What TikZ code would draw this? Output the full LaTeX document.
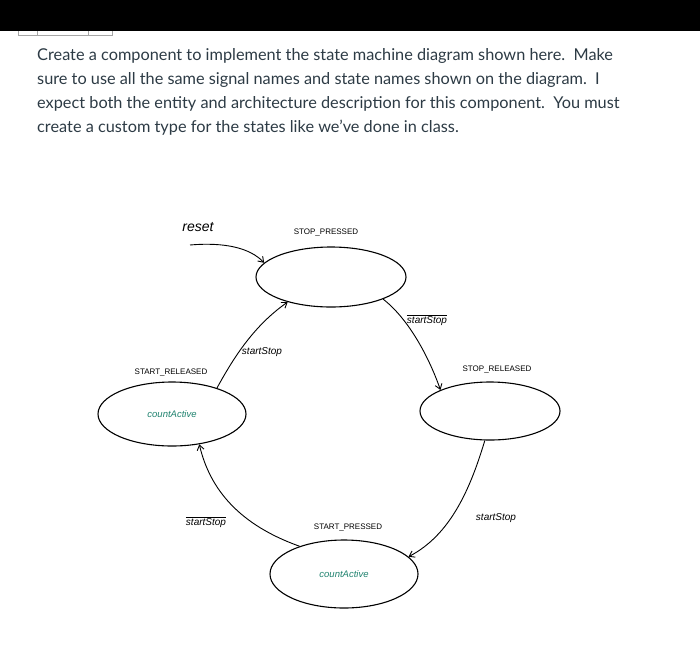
\documentclass[tikz,border=0pt]{standalone}
\usepackage{fontspec}
\setmainfont{Lato}
\newfontfamily\hand{Liberation Sans}
\usetikzlibrary{arrows.meta,shapes.geometric}
\definecolor{txt}{RGB}{45,59,69}
\definecolor{teal2}{RGB}{30,130,110}
\begin{document}
\begin{tikzpicture}[x=1pt,y=-1pt,
  st/.style={draw,ellipse,line width=1.1pt},
  lab/.style={font=\hand\fontsize{8}{9}\selectfont},
  sig/.style={font=\hand\itshape\fontsize{10}{11}\selectfont},
  act/.style={font=\hand\itshape\fontsize{9.5}{10}\selectfont,text=teal2},
  tr/.style={line width=0.9pt,-{Straight Barb[length=5pt,width=7pt]}},
  para/.style={font=\fontsize{16.3}{18}\selectfont,text=txt,anchor=base west,inner sep=0}]
\useasboundingbox (0,0) rectangle (700,654);
\fill[white] (0,0) rectangle (700,654);
\fill[black] (0,0) rectangle (700,31);
\draw[gray!70,line width=0.6pt] (18,31) -- (18,35) -- (112,35) -- (112,31) (37,31)--(37,35) (88,31)--(88,35);
\node[para] (p1) at (37,60) {Create a component to implement the state machine diagram shown here.\ \ Make};
\node[para] (p2) at (37,84) {sure to use all the same signal names and state names shown on the diagram.\ \ I};
\node[para] (p3) at (37,108) {expect both the entity and architecture description for this component.\ \ You must};
\node[para] (p4) at (37,132) {create a custom type for the states like we've done in class.};
\node[st,minimum width=150pt,minimum height=60pt] (sp) at (331,277) {};
\node[st,minimum width=140pt,minimum height=58pt] (sr) at (490,411) {};
\node[st,minimum width=148pt,minimum height=64pt] (tr0) at (172,414) {};
\node[st,minimum width=148pt,minimum height=68pt] (tp) at (344,574) {};
\node[act] (a1) at (tr0) {countActive};
\node[act] (a2) at (tp) {countActive};
\node[font=\hand\itshape\fontsize{14}{15}\selectfont] (rst) at (198,227) {reset};
\node[lab] (l1) at (326,232) {STOP\_PRESSED};
\node[lab] (l2) at (171,372) {START\_RELEASED};
\node[lab] (l3) at (497,369) {STOP\_RELEASED};
\node[lab] (l4) at (348,527) {START\_PRESSED};
\node[sig] (s1) at (427,320) {$\overline{\mbox{startStop}}$};
\node[sig] (s2) at (262,352) {startStop};
\node[sig] (s3) at (206,522) {$\overline{\mbox{startStop}}$};
\node[sig] (s4) at (496,518) {startStop};
\coordinate (r0) at (190,245);
\draw[tr] (r0) .. controls (225,242) and (250,248) .. (sp.168);
\draw[tr] (tr0.30) .. controls (235,355) and (255,325) .. (sp.210);
\draw[tr] (sp.-23) .. controls (410,320) and (430,360) .. (sr.157);
\draw[tr] (sr.-100) .. controls (470,490) and (450,535) .. (tp.15);
\draw[tr] (tp.148) .. controls (240,525) and (210,490) .. (tr0.-48);
\end{tikzpicture}
\end{document}
